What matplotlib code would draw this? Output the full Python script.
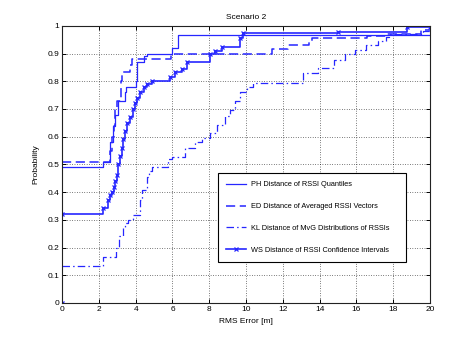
import matplotlib
matplotlib.use("Agg")
import matplotlib.pyplot as plt

# ---- data ----
ph_x = [0, 2.2, 2.6, 2.75, 2.9, 3.05, 3.4, 3.5, 4.0, 4.1, 4.45, 4.6, 6.0, 6.3, 20]
ph_y = [0.49, 0.51, 0.58, 0.64, 0.68, 0.73, 0.76, 0.78, 0.80, 0.87, 0.89, 0.90, 0.92, 0.967, 0.967]

ed_x = [0, 2.6, 2.7, 2.8, 2.9, 3.0, 3.2, 3.25, 3.7, 3.8, 5.9, 11.4, 12.3, 13.4, 13.6, 16.6, 17.6, 19.5, 20]
ed_y = [0.51, 0.55, 0.60, 0.64, 0.70, 0.73, 0.80, 0.835, 0.86, 0.88, 0.90, 0.915, 0.93, 0.945, 0.955,
        0.963, 0.972, 0.985, 0.985]

kl_x = [0, 2.2, 2.95, 3.1, 3.3, 3.42, 3.6, 3.88, 4.24, 4.33, 4.6, 4.75, 4.87, 5.78, 6.0, 6.68, 7.23,
        7.6, 8.04, 8.4, 8.86, 9.13, 9.4, 9.67, 10.04, 10.4, 13.1, 13.9, 14.8, 15.4, 15.9, 16.5, 17.2,
        17.6, 17.8, 19.6, 20]
kl_y = [0.135, 0.165, 0.20, 0.24, 0.27, 0.29, 0.30, 0.318, 0.37, 0.408, 0.456, 0.475, 0.49, 0.52,
        0.528, 0.558, 0.582, 0.595, 0.613, 0.643, 0.673, 0.697, 0.727, 0.763, 0.78, 0.795, 0.83,
        0.847, 0.877, 0.90, 0.913, 0.93, 0.945, 0.96, 0.97, 0.98, 0.98]

ws_x = [0, 0, 2.2, 2.5, 2.6, 2.7, 2.8, 2.9, 2.97, 3.06, 3.15, 3.24, 3.33, 3.42, 3.55, 3.7, 3.88,
        3.97, 4.1, 4.24, 4.45, 4.6, 4.87, 5.87, 6.14, 6.5, 6.78, 8.04, 8.3, 8.68, 9.67, 9.86, 15.0,
        18.73, 20]
ws_y = [0.0, 0.32, 0.342, 0.37, 0.39, 0.40, 0.42, 0.44, 0.46, 0.50, 0.53, 0.56, 0.59, 0.62, 0.65,
        0.67, 0.70, 0.72, 0.74, 0.76, 0.78, 0.79, 0.80, 0.817, 0.835, 0.845, 0.868, 0.90, 0.91,
        0.925, 0.955, 0.975, 0.978, 0.995, 0.995]

labels = ["PH Distance of RSSI Quantiles",
          "ED Distance of Averaged RSSI Vectors",
          "KL Distance of MvG Distributions of RSSIs",
          "WS Distance of RSSI Confidence Intervals"]
x_ticks = list(range(0, 21, 2))
y_ticks = [i / 10 for i in range(11)]
y_ticklabels = ["0"] + [f"{v:.1f}" for v in y_ticks[1:-1]] + ["1"]

# ---- plot ----
plt.rcParams['font.family'] = ['Liberation Sans', 'DejaVu Sans']
fig = plt.figure(figsize=(4.74, 3.40), dpi=100)
ax = fig.add_axes([0.131, 0.109, 0.776, 0.815])

blue = (0.15, 0.15, 1.0)
ax.step(ph_x, ph_y, where='post', color=blue, lw=0.9, label=labels[0])
ax.step(ed_x, ed_y, where='post', color=blue, lw=1.1, linestyle=(0, (6, 3)), label=labels[1])
ax.step(kl_x, kl_y, where='post', color=blue, lw=0.9, linestyle=(0, (6, 2.5, 1.2, 2.5)), label=labels[2])
ax.step(ws_x, ws_y, where='post', color=blue, lw=1.2, marker='x', markersize=3.5,
        markeredgewidth=0.9, label=labels[3])

ax.set_xlim(0, 20)
ax.set_ylim(0, 1)
ax.set_xticks(x_ticks)
ax.set_xticklabels([str(t) for t in x_ticks])
ax.set_yticks(y_ticks)
ax.set_yticklabels(y_ticklabels)
ax.tick_params(direction='in', top=True, right=True, length=3, width=0.7,
               labelsize=6, pad=2)
ax.grid(True, linestyle=(0, (1, 2.5)), color='black', linewidth=0.5)
for s in ax.spines.values():
    s.set_linewidth(0.8)
    s.set_color('#222222')

ax.set_title("Scenario 2", fontsize=6, pad=5)
ax.set_xlabel("RMS Error [m]", fontsize=6, labelpad=4)
ax.set_ylabel("Probability", fontsize=6, labelpad=6)

leg = ax.legend(loc='upper left', bbox_to_anchor=(0.424, 0.144, 0.511, 0.325), mode='expand',
                fontsize=5.3, frameon=True, fancybox=False, edgecolor='black', framealpha=1,
                labelspacing=2.0, handlelength=2.7, handletextpad=0.65,
                borderpad=1.1, borderaxespad=0)
leg.get_frame().set_linewidth(0.8)

fig.savefig("out.png", dpi=100)
